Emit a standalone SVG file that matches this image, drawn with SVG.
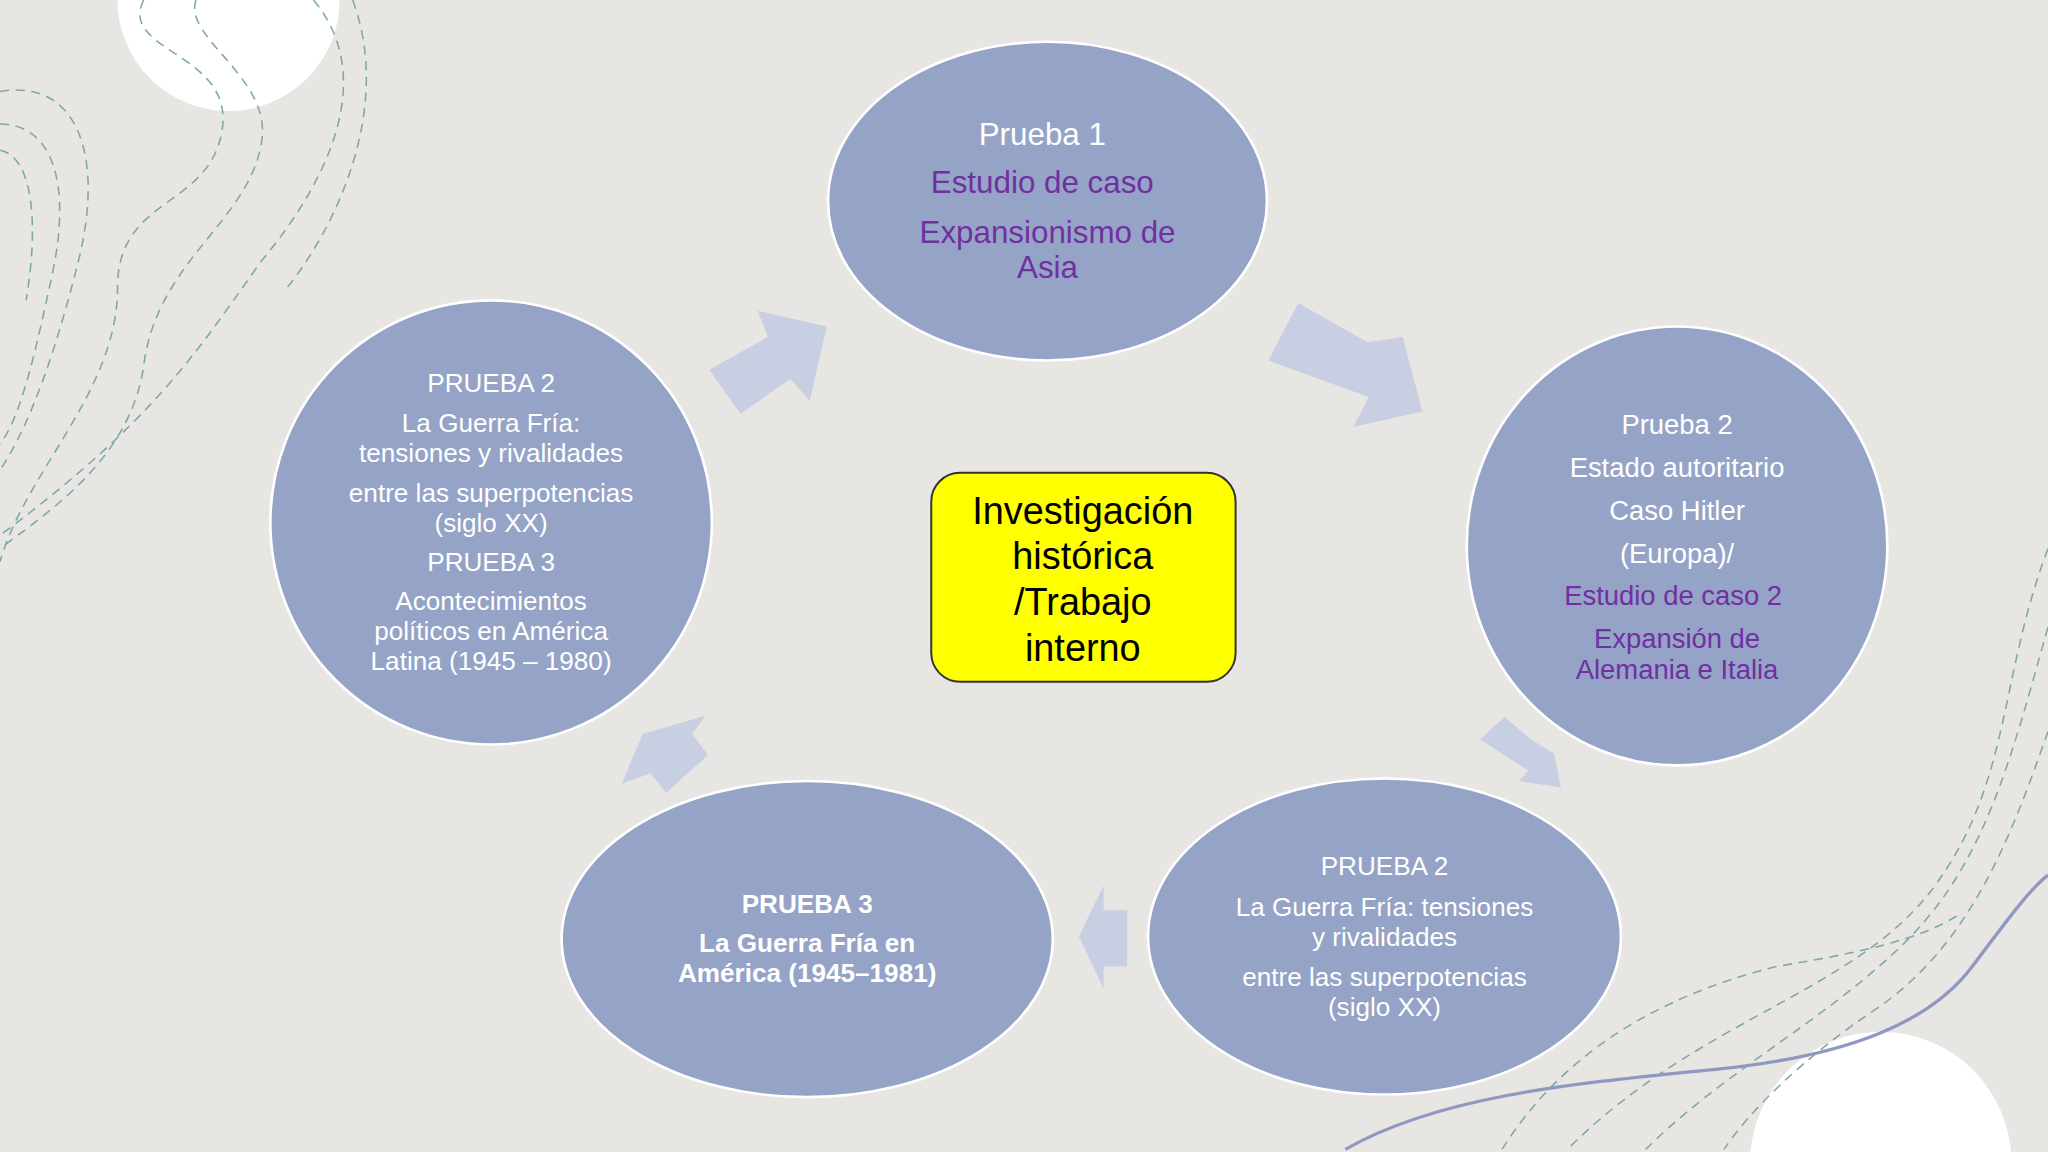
<svg xmlns="http://www.w3.org/2000/svg" width="2048" height="1152" viewBox="0 0 2048 1152">
<style>
.n{fill:#95a3c7;stroke:#fff;stroke-width:2}
.a{fill:#c9cfe3}
.t{font-family:"Liberation Sans",Arial,sans-serif;fill:#fff;text-anchor:middle}
.p{fill:#7030a0}
.d{fill:none;stroke:#7fa7a8;stroke-width:1.2;stroke-dasharray:7 5}
</style>
<rect width="2048" height="1152" fill="#e8e6e2"/>
<g transform="scale(1.30612)">
<g id="deco">
<circle cx="175" cy="0" r="85" fill="#fff"/>
<circle cx="1440" cy="890" r="100" fill="#fff"/>
<path class="d" d="M0,70 C60,60 80,120 60,200 C40,280 20,330 0,360"/>
<path class="d" d="M0,95 C40,95 55,140 40,210 C25,280 15,320 0,340"/>
<path class="d" d="M0,115 C25,120 30,170 20,230"/>
<path class="d" d="M110,0 C90,40 180,40 170,100 C160,160 90,150 90,220 C90,300 20,360 0,430"/>
<path class="d" d="M150,0 C140,30 210,60 200,110 C190,170 120,200 110,280 C100,350 40,390 0,420"/>
<path class="d" d="M240,0 C290,60 250,140 200,200 C150,270 120,320 0,410"/>
<path class="d" d="M270,0 C300,80 260,170 220,220"/>
<path class="d" d="M1568,420 C1530,520 1540,600 1480,680 C1420,760 1300,780 1200,880"/>
<path class="d" d="M1568,480 C1540,580 1520,660 1460,720 C1400,780 1320,820 1260,880"/>
<path class="d" d="M1568,560 C1540,640 1510,720 1440,770 C1380,810 1340,850 1320,880"/>
<path class="d" d="M1150,880 C1200,800 1280,760 1360,740 C1420,730 1470,720 1500,700"/>
<path fill="none" stroke="#8f98c2" stroke-width="2.5" d="M1030,880 C1100,840 1200,830 1300,820 C1420,810 1480,780 1510,740 C1540,700 1555,680 1568,670"/>
</g>
<g id="connectors">
<polygon class="a" points="543,283 588,258 580,238 633,250 620,307 605,290 567,317"/>
<polygon class="a" points="971,276 994,232 1047,262 1074,258 1089,315 1036,327 1048,304"/>
<polygon class="a" points="1133,566 1152,549 1172,566 1190,577 1195,603 1163,598 1170,590"/>
<polygon class="a" points="826,717 845,678 845,697 863,697 863,740 845,740 845,757"/>
<polygon class="a" points="476,600 492,562 540,548 530,562 542,578 510,607 498,592"/>
</g>
<g id="n1">
<ellipse class="n" cx="802" cy="154" rx="168" ry="122"/>
<text class="t" font-size="24"><tspan x="798" y="111">Prueba 1</tspan><tspan class="p" x="798" y="148">Estudio de caso</tspan><tspan class="p" x="802" y="186">Expansionismo de</tspan><tspan class="p" x="802" y="213">Asia</tspan></text>
</g>
<g id="n2">
<ellipse class="n" cx="1284" cy="418" rx="161" ry="168"/>
<text class="t" font-size="21"><tspan x="1284" y="332">Prueba 2</tspan><tspan x="1284" y="365">Estado autoritario</tspan><tspan x="1284" y="398">Caso Hitler</tspan><tspan x="1284" y="431">(Europa)/</tspan><tspan class="p" x="1281" y="463">Estudio de caso 2</tspan><tspan class="p" x="1284" y="496">Expansión de</tspan><tspan class="p" x="1284" y="520">Alemania e Italia</tspan></text>
</g>
<g id="n3">
<ellipse class="n" cx="1060" cy="717" rx="181" ry="121"/>
<text class="t" font-size="20"><tspan x="1060" y="670">PRUEBA 2</tspan><tspan x="1060" y="701">La Guerra Fría: tensiones</tspan><tspan x="1060" y="724">y rivalidades</tspan><tspan x="1060" y="755">entre las superpotencias</tspan><tspan x="1060" y="778">(siglo XX)</tspan></text>
</g>
<g id="n4">
<ellipse class="n" cx="618" cy="719" rx="188" ry="121"/>
<text class="t" font-size="20" font-weight="bold"><tspan x="618" y="699">PRUEBA 3</tspan><tspan x="618" y="729">La Guerra Fría en</tspan><tspan x="618" y="752">América (1945–1981)</tspan></text>
</g>
<g id="n5">
<ellipse class="n" cx="376" cy="400" rx="169" ry="170"/>
<text class="t" font-size="20"><tspan x="376" y="300">PRUEBA 2</tspan><tspan x="376" y="331">La Guerra Fría:</tspan><tspan x="376" y="354">tensiones y rivalidades</tspan><tspan x="376" y="384">entre las superpotencias</tspan><tspan x="376" y="407">(siglo XX)</tspan><tspan x="376" y="437">PRUEBA 3</tspan><tspan x="376" y="467">Acontecimientos</tspan><tspan x="376" y="490">políticos en América</tspan><tspan x="376" y="513">Latina (1945 – 1980)</tspan></text>
</g>
<g id="center">
<rect x="713" y="362" width="233" height="160" rx="22" fill="#ffff00" stroke="#333" stroke-width="1.5"/>
<text class="t" font-size="29" style="fill:#000"><tspan x="829" y="401">Investigación</tspan><tspan x="829" y="436">histórica</tspan><tspan x="829" y="471">/Trabajo</tspan><tspan x="829" y="506">interno</tspan></text>
</g>
</g>
</svg>
